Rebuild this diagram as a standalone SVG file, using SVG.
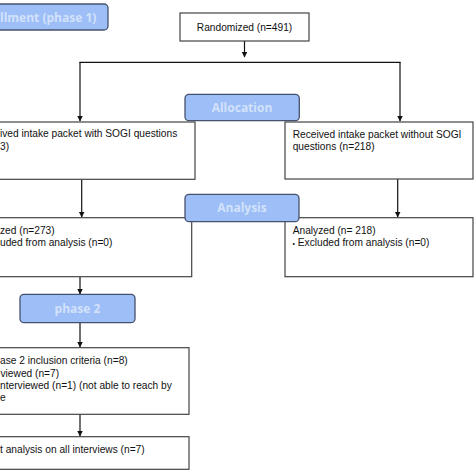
<svg xmlns="http://www.w3.org/2000/svg" width="474" height="474" viewBox="0 0 474 474">
<defs>
<marker id="ah" markerWidth="6" markerHeight="7" refX="5.5" refY="3.5" orient="auto" markerUnits="userSpaceOnUse">
<path d="M0,0.5 L6,3.5 L0,6.5 Z" fill="#111"/>
</marker>
<style>
.box{fill:#fff;stroke:#444;stroke-width:1.2}
.hdr{fill:#9dbef6;stroke:#45526c;stroke-width:1.3}
.ht{font-family:"Open Sans","DejaVu Sans",sans-serif;font-weight:bold;font-size:12px;fill:#d2e2fb;text-anchor:middle}
.t{font-family:"Liberation Sans",Arial,sans-serif;font-size:10.2px;fill:#111}
.c{fill:none;stroke:#111;stroke-width:1.2}
</style>
</defs>
<rect width="474" height="474" fill="#fff"/>
<g id="connectors">
<line class="c" x1="244.5" y1="41" x2="244.5" y2="57" marker-end="url(#ah)"/>
<line class="c" x1="79.4" y1="62.3" x2="400.6" y2="62.3"/>
<line class="c" x1="80" y1="62.3" x2="80" y2="121" marker-end="url(#ah)"/>
<line class="c" x1="400" y1="62.3" x2="400" y2="121" marker-end="url(#ah)"/>
<line class="c" x1="81.7" y1="179.3" x2="81.7" y2="217" marker-end="url(#ah)"/>
<line class="c" x1="397.7" y1="179" x2="397.7" y2="217" marker-end="url(#ah)"/>
<line class="c" x1="80" y1="276.7" x2="80" y2="294" marker-end="url(#ah)"/>
<line class="c" x1="80" y1="322.7" x2="80" y2="347" marker-end="url(#ah)"/>
<line class="c" x1="80" y1="414.3" x2="80" y2="436" marker-end="url(#ah)"/>
</g>
<g id="enrollment">
<rect class="hdr" x="-10" y="4" width="118" height="26" rx="4"/>
<text class="ht" x="0" y="21.5" style="text-anchor:start">llment (phase 1)</text>
</g>
<g id="randomized">
<rect class="box" x="180" y="13" width="129" height="28"/>
<text class="t" x="244.5" y="31" text-anchor="middle">Randomized (n=491)</text>
</g>
<g id="sogi">
<rect class="box" x="-2" y="122" width="197" height="57.3"/>
<text class="t" x="0" y="137.3">ived intake packet with SOGI questions</text>
<text class="t" x="0" y="149.5">3)</text>
</g>
<g id="nosogi">
<rect class="box" x="285" y="122" width="188" height="57"/>
<text class="t" x="292.7" y="137.8">Received intake packet without SOGI</text>
<text class="t" x="292.7" y="150">questions (n=218)</text>
</g>
<g id="allocation">
<rect class="hdr" x="185" y="94.3" width="114.3" height="26.4" rx="4"/>
<text class="ht" x="242" y="111.8">Allocation</text>
</g>
<g id="analyzed-left">
<rect class="box" x="-2" y="217.7" width="193.7" height="59"/>
<text class="t" x="0" y="233.5">zed (n=273)</text>
<text class="t" x="0" y="245.5">uded from analysis (n=0)</text>
</g>
<g id="analyzed-right">
<rect class="box" x="285" y="217.7" width="188" height="59"/>
<text class="t" x="292.7" y="234">Analyzed (n= 218)</text>
<text class="t" x="292.5" y="246.3"><tspan font-size="7">•</tspan> Excluded from analysis (n=0)</text>
</g>
<g id="analysis">
<rect class="hdr" x="185" y="194.3" width="114" height="27.4" rx="4"/>
<text class="ht" x="242" y="212.3">Analysis</text>
</g>
<g id="phase2">
<rect class="hdr" x="20" y="294.3" width="115" height="28.4" rx="4"/>
<text class="ht" x="77.5" y="312.8">phase 2</text>
</g>
<g id="criteria">
<rect class="box" x="-2" y="347.7" width="191" height="66.6"/>
<text class="t" x="0" y="364">ase 2 inclusion criteria  (n=8)</text>
<text class="t" x="0.5" y="376.5">viewed (n=7)</text>
<text class="t" x="0" y="389">nterviewed (n=1) (not able to reach by</text>
<text class="t" x="0" y="400.5">e</text>
</g>
<g id="content-analysis">
<rect class="box" x="-2" y="436.7" width="191" height="32.6"/>
<text class="t" x="0" y="452.5">t analysis on all interviews (n=7)</text>
</g>
</svg>
